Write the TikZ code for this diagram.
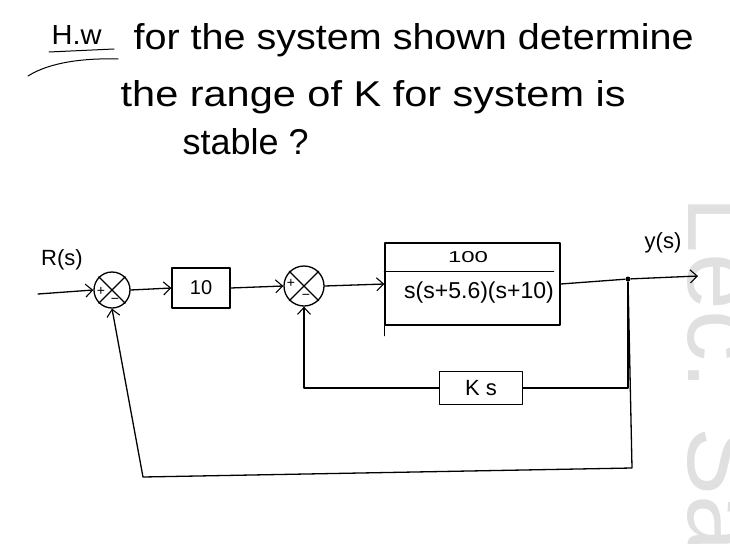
\documentclass[tikz,border=0pt]{standalone}
\usepackage{fontspec}
\setmainfont{Liberation Sans}
\usetikzlibrary{arrows.meta,calc}
\begin{document}
\begin{tikzpicture}[x=1pt,y=-1pt,
  line width=1.3pt, line cap=round, line join=round,
  arr/.style={-{Straight Barb[length=7pt,width=13pt,line width=1.1pt]}},
  blk/.style={draw, rectangle, inner sep=0pt},
  sumj/.style={draw, circle, inner sep=0pt},
  lbl/.style={inner sep=0pt, font=\fontsize{22}{24}\selectfont},
  sgn/.style={inner sep=0pt, font=\fontsize{14}{14}\selectfont},
  ttl/.style={anchor=base west, inner sep=0pt, font=\fontsize{36}{40}\selectfont},
  ]
\useasboundingbox (0,0) rectangle (730,543);
\fill[white] (0,0) rectangle (730,543);
% watermark
\begin{scope}
\clip (0,0) rectangle (730,543);
\node[rotate=-90, anchor=base west, inner sep=0pt, text=black!12,
  font=\fontsize{102}{110}\selectfont] (wm) at (688,196) {Lec. Salah};
\end{scope}
% title
\node[ttl] (hw) at (51,45) {\resizebox{50pt}{19pt}{H.w}};
\draw[line width=1pt] (49,52) -- (114,49);
\draw[line width=1pt] (28,76) .. controls (50,62) and (85,58) .. (118,59);
\node[ttl] (l1) at (133,50) {\resizebox{560pt}{26pt}{for the system shown determine}};
\node[ttl] (l2) at (120,106) {\resizebox{505pt}{26pt}{the range of K for system is}};
\node[ttl] (l3) at (182,154) {\resizebox{126pt}{26pt}{stable ?}};
% block diagram
\node[lbl] (R) at (62,260) {R(s)};
\node[lbl] (Y) at (663,243) {y(s)};
\coordinate (in) at (38,294);
\node[sumj, minimum size=36pt] (s1) at (112,290) {};
\draw (s1.45) -- (s1.225) (s1.135) -- (s1.315);
\node[sgn] at ($(s1)+(-11,1)$) {+};
\node[sgn] at ($(s1)+(3,11)$) {\textminus};
\node[blk, minimum width=58pt, minimum height=40pt, font=\fontsize{20}{22}\selectfont] (b10) at (201,288) {10};
\node[sumj, minimum size=40pt] (s2) at (304,286) {};
\draw (s2.45) -- (s2.225) (s2.135) -- (s2.315);
\node[sgn] at ($(s2)+(-13,-3)$) {+};
\node[sgn] at ($(s2)+(2,11)$) {\textminus};
\node[blk, minimum width=175pt, minimum height=82pt] (G) at (472.5,284) {};
\draw ($(G.north west)+(0,29)$) -- ($(G.north east)+(-7,29)$);
\draw (G.south west) -- ++(0,10);
\node[inner sep=0pt] (num) at (468,257) {\resizebox{40pt}{11pt}{100}};
\node[lbl, font=\fontsize{23}{25}\selectfont] (den) at (479,293) {s(s+5.6)(s+10)};
\node[blk, minimum width=83pt, minimum height=33pt, font=\fontsize{22}{24}\selectfont] (KS) at (481,388) {K s};
\node[circle, fill, inner sep=0pt, minimum size=5pt] (dot) at (628,279) {};
\coordinate (out) at (698,276);
\coordinate (c2) at (632,468);
\coordinate (c3) at (143,477);
\draw[arr] (in) -- (s1.west);
\draw[arr] (s1.east) -- (b10.west);
\draw[arr] (b10.east) -- (s2.west);
\draw[arr] (s2.east) -- (G.west);
\draw (G.east) -- (dot);
\draw[arr] (dot) -- (out);
\draw (dot) |- (KS.east);
\draw[arr] (KS.west) -| (s2.south);
\draw[arr] (dot) -- (c2) -- (c3) -- (s1.south);
\end{tikzpicture}
\end{document}
